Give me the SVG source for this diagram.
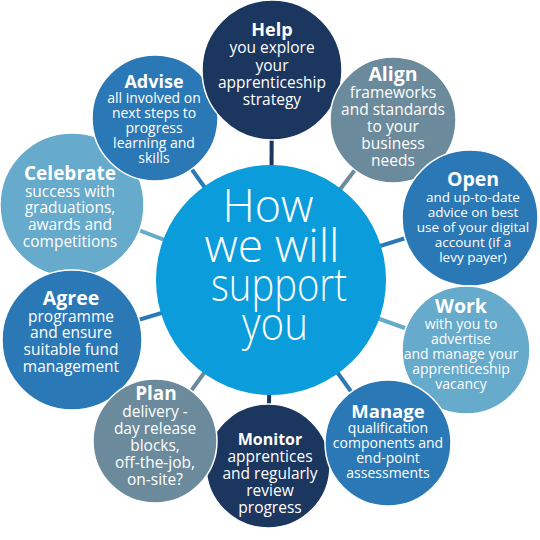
<svg xmlns="http://www.w3.org/2000/svg" width="540" height="540" viewBox="0 0 540 540">
<style>
.c{stroke:#ffffff;stroke-width:1.5}
.navy{fill:#1b365f}
.grey{fill:#6b8a9b}
.mid{fill:#2b78b6}
.light{fill:#66aacc}
.t{font-family:"Open Sans","Liberation Sans",sans-serif;fill:#ffffff;text-anchor:middle;font-size:14px;font-weight:500}
.l{font-size:15.5px}
.h{font-weight:700;font-size:19.5px}
.big{font-family:"Open Sans","Liberation Sans",sans-serif;fill:#ffffff;text-anchor:middle;font-size:46px;font-weight:300}
.ln{stroke-width:4}
</style>
<rect width="540" height="540" fill="#ffffff"/>
<g id="connectors">
<line class="ln" x1="271" y1="280" x2="272" y2="70" stroke="#1b365f"/>
<line class="ln" x1="271" y1="280" x2="155" y2="118" stroke="#2b78b6"/>
<line class="ln" x1="271" y1="280" x2="393" y2="120" stroke="#6b8a9b"/>
<line class="ln" x1="271" y1="280" x2="72" y2="205" stroke="#66aacc"/>
<line class="ln" x1="271" y1="280" x2="470" y2="218" stroke="#2b78b6"/>
<line class="ln" x1="271" y1="280" x2="72" y2="340" stroke="#2b78b6"/>
<line class="ln" x1="271" y1="280" x2="466" y2="350" stroke="#66aacc"/>
<line class="ln" x1="271" y1="280" x2="155" y2="441" stroke="#6b8a9b"/>
<line class="ln" x1="271" y1="280" x2="388" y2="443" stroke="#2b78b6"/>
<line class="ln" x1="271" y1="280" x2="268" y2="466" stroke="#1b365f"/>
</g>
<g id="celebrate">
<circle class="c light" cx="72" cy="205" r="72"/>
<text class="t h" x="70" y="180" style="font-size:19px">Celebrate</text>
<text class="t l" x="70" y="197">success with</text>
<text class="t l" x="70" y="213">graduations,</text>
<text class="t l" x="70" y="230">awards and</text>
<text class="t l" x="70" y="247">competitions</text>
</g>
<g id="advise">
<circle class="c mid" cx="155" cy="118" r="63"/>
<text class="t h" x="154" y="88" style="font-size:18px">Advise</text>
<text class="t" x="154" y="103">all involved on</text>
<text class="t" x="154" y="118">next steps to</text>
<text class="t" x="154" y="133">progress</text>
<text class="t" x="154" y="148">learning and</text>
<text class="t" x="154" y="163">skills</text>
</g>
<g id="help">
<circle class="c navy" cx="272" cy="70" r="70"/>
<text class="t h" x="272" y="36" style="font-size:18px">Help</text>
<text class="t" x="272" y="53" style="font-size:15.5px">you explore</text>
<text class="t" x="272" y="71" style="font-size:15.5px">your</text>
<text class="t" x="272" y="88" style="font-size:15.5px">apprenticeship</text>
<text class="t" x="272" y="105" style="font-size:15.5px">strategy</text>
</g>
<g id="align">
<circle class="c grey" cx="393" cy="120" r="63"/>
<text class="t h" x="393" y="81">Align</text>
<text class="t l" x="393" y="98">frameworks</text>
<text class="t l" x="393" y="115">and standards</text>
<text class="t l" x="393" y="132">to your</text>
<text class="t l" x="393" y="149">business</text>
<text class="t l" x="393" y="166">needs</text>
</g>
<g id="open">
<circle class="c mid" cx="470" cy="218" r="68"/>
<text class="t h" x="473" y="186">Open</text>
<text class="t" x="473" y="202" style="font-size:13.5px">and up-to-date</text>
<text class="t" x="473" y="217" style="font-size:13.5px">advice on best</text>
<text class="t" x="473" y="232" style="font-size:13.5px">use of your digital</text>
<text class="t" x="473" y="247" style="font-size:13.5px">account (if a</text>
<text class="t" x="473" y="262" style="font-size:13.5px">levy payer)</text>
</g>
<g id="work">
<circle class="c light" cx="466" cy="350" r="64"/>
<text class="t h" x="461" y="313">Work</text>
<text class="t" x="461" y="329">with you to</text>
<text class="t" x="461" y="344">advertise</text>
<text class="t" x="461" y="359">and manage your</text>
<text class="t" x="461" y="374">apprenticeship</text>
<text class="t" x="461" y="389">vacancy</text>
</g>
<g id="agree">
<circle class="c mid" cx="72" cy="340" r="70"/>
<text class="t h" x="71" y="305">Agree</text>
<text class="t l" x="71" y="322">programme</text>
<text class="t l" x="71" y="338">and ensure</text>
<text class="t l" x="71" y="355">suitable fund</text>
<text class="t l" x="71" y="372">management</text>
</g>
<g id="monitor">
<circle class="c navy" cx="268" cy="466" r="62"/>
<text class="t h" x="270" y="445" style="font-size:16px">Monitor</text>
<text class="t l" x="270" y="462">apprentices</text>
<text class="t l" x="270" y="479">and regularly</text>
<text class="t l" x="270" y="496">review</text>
<text class="t l" x="270" y="513">progress</text>
</g>
<g id="plan">
<circle class="c grey" cx="155" cy="441" r="62"/>
<text class="t h" x="156" y="400" style="font-size:19px">Plan</text>
<text class="t l" x="155" y="417">delivery -</text>
<text class="t l" x="155" y="434">day release</text>
<text class="t l" x="155" y="451">blocks,</text>
<text class="t l" x="155" y="468">off-the-job,</text>
<text class="t l" x="155" y="485">on-site?</text>
</g>
<g id="manage">
<circle class="c mid" cx="388" cy="443" r="63"/>
<text class="t h" x="388" y="418" style="font-size:18.5px">Manage</text>
<text class="t" x="388" y="433">qualification</text>
<text class="t" x="388" y="448">components and</text>
<text class="t" x="388" y="463">end-point</text>
<text class="t" x="388" y="478">assessments</text>
</g>
<g id="center">
<circle cx="271" cy="280" r="115" fill="#0a9cdb"/>
<text class="big" x="268" y="222" textLength="91" lengthAdjust="spacingAndGlyphs">How</text>
<text class="big" x="272" y="262" textLength="135" lengthAdjust="spacingAndGlyphs">we will</text>
<text class="big" x="279" y="301" textLength="136" lengthAdjust="spacingAndGlyphs">support</text>
<text class="big" x="275" y="340" textLength="66" lengthAdjust="spacingAndGlyphs">you</text>
</g>
</svg>
